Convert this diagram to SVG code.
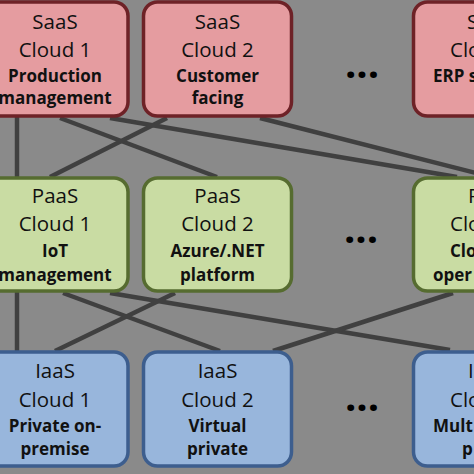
<svg xmlns="http://www.w3.org/2000/svg" width="474" height="474" viewBox="0 0 474 474">
<style>
.bg{fill:#8a8a8a}
.saas{fill:#e59ca0;stroke:#6e2227;stroke-width:3.5}
.paas{fill:#c9dca3;stroke:#566c30;stroke-width:3.5}
.iaas{fill:#98b6dc;stroke:#3d5e8e;stroke-width:3.5}
.t{font-family:"Open Sans","Noto Sans",sans-serif;fill:#111;text-anchor:middle}
.r{font-size:20.5px}
.b{font-size:17px;font-weight:bold}
.s{text-anchor:start}
.dots{font-family:"Open Sans",sans-serif;font-weight:bold;font-size:40px;fill:#000;text-anchor:middle}
#connectors line{stroke:#404040;stroke-width:4.5}
</style>
<rect class="bg" x="0" y="0" width="474" height="474"/>
<g id="connectors">
<line x1="17" y1="110" x2="17" y2="185"/>
<line x1="60" y1="118" x2="217" y2="177"/>
<line x1="167" y1="118" x2="50" y2="177"/>
<line x1="110" y1="118" x2="457" y2="177"/>
<line x1="260" y1="118" x2="480" y2="174"/>
<line x1="17" y1="285" x2="17" y2="360"/>
<line x1="63" y1="293" x2="220" y2="351"/>
<line x1="175" y1="293" x2="55" y2="351"/>
<line x1="110" y1="293" x2="450" y2="350"/>
<line x1="453" y1="293" x2="273" y2="351"/>
</g>
<g id="saas1"><rect class="saas" x="-20" y="2" width="148" height="114" rx="14"/>
<text class="t r" x="55" y="29">SaaS</text><text class="t r" x="55" y="57">Cloud 1</text>
<text class="t b" x="55" y="82">Production</text><text class="t b" x="55" y="104">management</text></g>
<g id="saas2"><rect class="saas" x="143.5" y="2" width="148" height="114" rx="14"/>
<text class="t r" x="217.5" y="29">SaaS</text><text class="t r" x="217.5" y="57">Cloud 2</text>
<text class="t b" x="217.5" y="82">Customer</text><text class="t b" x="217.5" y="104">facing</text></g>
<g id="saas3"><rect class="saas" x="413.5" y="2" width="148" height="114" rx="14"/>
<text class="t r s" x="467" y="29">S</text><text class="t r s" x="450" y="57">Clo</text>
<text class="t b s" x="433" y="82">ERP s</text></g>
<g id="paas1"><rect class="paas" x="-20" y="178" width="148" height="113" rx="14"/>
<text class="t r" x="55" y="203">PaaS</text><text class="t r" x="55" y="231">Cloud 1</text>
<text class="t b" x="55" y="257">IoT</text><text class="t b" x="55" y="281">management</text></g>
<g id="paas2"><rect class="paas" x="143.5" y="178" width="148" height="113" rx="14"/>
<text class="t r" x="217.5" y="203">PaaS</text><text class="t r" x="217.5" y="231">Cloud 2</text>
<text class="t b" x="217.5" y="257">Azure/.NET</text><text class="t b" x="217.5" y="281">platform</text></g>
<g id="paas3"><rect class="paas" x="413.5" y="178" width="148" height="113" rx="14"/>
<text class="t r s" x="468" y="203">P</text><text class="t r s" x="450" y="231">Clo</text>
<text class="t b s" x="450" y="257">Clo</text><text class="t b s" x="433" y="281">oper</text></g>
<g id="iaas1"><rect class="iaas" x="-20" y="352" width="148" height="114" rx="14"/>
<text class="t r" x="55" y="378">IaaS</text><text class="t r" x="55" y="407">Cloud 1</text>
<text class="t b" x="55" y="432">Private on-</text><text class="t b" x="55" y="455">premise</text></g>
<g id="iaas2"><rect class="iaas" x="143.5" y="352" width="148" height="114" rx="14"/>
<text class="t r" x="217.5" y="378">IaaS</text><text class="t r" x="217.5" y="407">Cloud 2</text>
<text class="t b" x="217.5" y="432">Virtual</text><text class="t b" x="217.5" y="455">private</text></g>
<g id="iaas3"><rect class="iaas" x="413.5" y="352" width="148" height="114" rx="14"/>
<text class="t r s" x="468" y="378">I</text><text class="t r s" x="450" y="407">Clo</text>
<text class="t b s" x="433" y="432">Mult</text><text class="t b s" x="462" y="455">p</text></g>
<g id="ellipses">
<text class="dots" x="362" y="78">...</text>
<text class="dots" x="361" y="243">...</text>
<text class="dots" x="362" y="411">...</text>
</g>
</svg>
